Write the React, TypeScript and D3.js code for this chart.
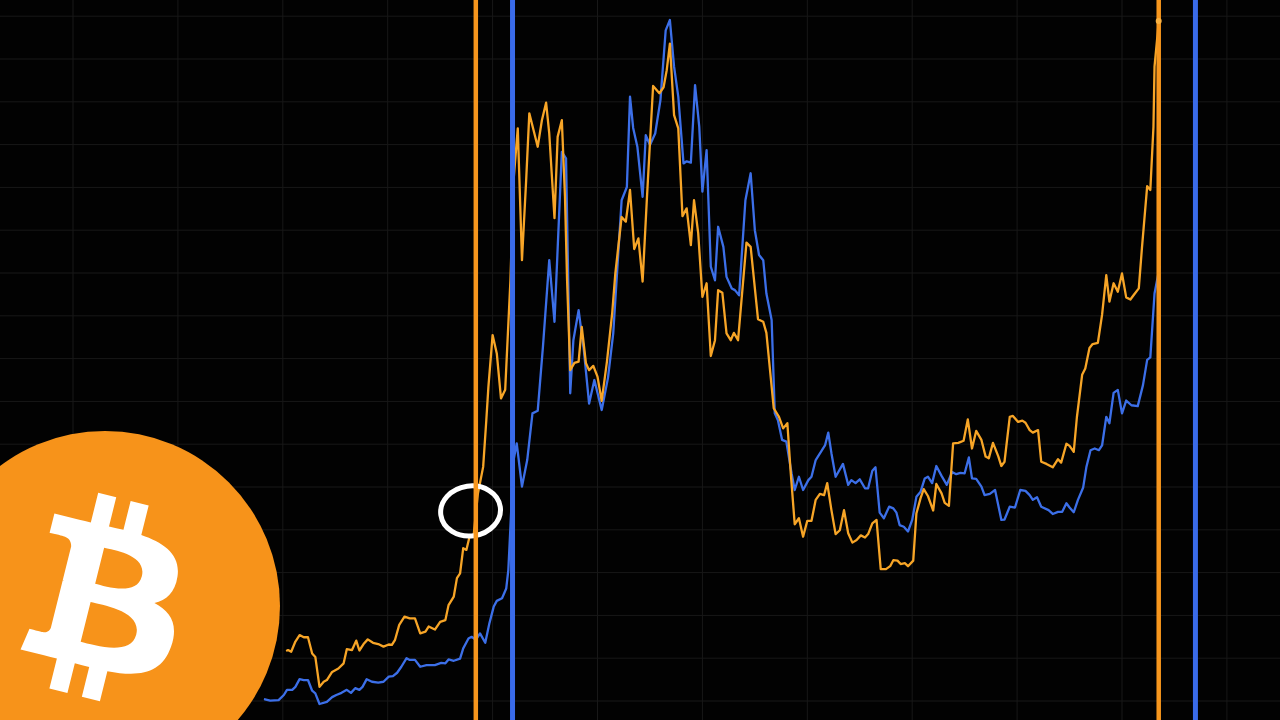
import React from "react";
import * as d3 from "d3";

// x: time index (grid every 10 units), y: value index (grid every 10 units)
const blueT = [18.3,18.8,19.6,20.1,20.4,20.9,21.2,21.6,22.0,22.4,
22.8,23.1,23.5,24.2,24.7,25.1,25.6,26.1,26.5,26.9,
27.3,27.6,28.0,28.5,29.1,29.6,30.1,30.5,30.9,31.3,
31.8,32.1,32.6,33.1,33.7,34.5,35.1,35.5,35.8,36.3,
36.9,37.2,37.7,38.0,38.4,38.8,39.3,39.7,40.1,40.4,
40.9,41.3,41.5,41.7,42.0,42.3,42.8,43.3,43.8,44.3,
44.8,45.4,45.9,46.6,47.0,47.4,47.7,48.2,48.7,49.2,
49.7,50.4,51.0,51.5,52.3,52.8,53.1,53.4,53.8,54.3,
54.6,55.0,55.5,56.0,56.5,56.9,57.3,57.7,58.2,58.5,
58.9,59.3,59.7,60.0,60.4,60.8,61.2,61.5,62.0,62.3,
62.8,63.1,63.5,64.1,64.6,65.0,65.4,65.8,66.1,66.6,
66.9,67.2,67.6,68.0,68.5,68.8,69.2,69.6,70.1,70.4,
70.8,71.4,71.7,72.0,72.3,72.7,73.4,73.9,74.2,74.6,
75.0,75.5,75.8,76.2,76.5,76.9,77.3,77.8,78.2,78.5,
78.8,79.2,79.6,80.0,80.4,80.8,81.2,81.5,81.9,82.3,
82.8,83.3,83.8,84.2,84.6,85.0,85.4,85.7,86.1,86.6,
86.9,87.4,87.9,88.5,88.8,89.3,89.8,90.3,90.8,91.2,
91.5,91.9,92.3,93.0,93.4,93.9,94.3,94.7,95.0,95.4,
95.8,96.3,96.6,97.0,97.4,97.8,98.1,98.5,98.8,99.2,
99.6,100.0,100.4,100.9,101.5,102.0,102.4,102.7,103.1,103.6];

const blueV = [10.4,10.1,10.2,11.4,12.6,12.6,13.3,15.1,14.9,14.9,
12.4,11.8,9.3,9.8,10.9,11.4,11.9,12.6,11.9,13.0,
12.6,13.3,15.1,14.5,14.3,14.5,15.7,15.8,16.6,18.0,
20.0,19.6,19.6,18.0,18.4,18.4,18.9,18.8,19.7,19.4,
19.9,22.3,24.6,25.0,24.3,25.8,23.6,28.2,32.0,33.4,
34.0,36.3,40.6,50.7,66.3,70.2,60.1,66.3,77.2,77.8,
92.8,113.0,98.6,138.3,136.8,81.9,94.3,101.3,92.0,79.5,
85.0,78.0,85.5,95.9,127.0,130.1,151.2,143.9,139.5,127.8,
142.2,139.9,142.6,150.4,166.7,169.1,158.2,151.2,135.6,136.1,
135.8,153.9,144.2,129.0,138.7,111.5,108.3,120.8,116.1,109.1,
106.4,106.0,104.8,127.0,133.3,120.0,114.2,113.0,105.2,99.0,
77.2,75.6,71.0,70.6,63.2,59.3,62.4,59.3,61.6,62.4,
66.3,68.6,69.8,72.7,67.9,62.4,65.4,60.5,61.6,60.9,
61.8,59.7,59.7,63.8,64.6,54.0,52.7,55.4,55.0,54.0,
51.1,50.7,49.6,52.3,57.7,58.9,62.0,62.4,60.9,64.9,
62.6,60.5,63.5,63.0,63.3,63.2,66.9,62.0,61.9,60.1,
58.1,58.4,59.3,52.3,52.4,55.4,55.2,59.3,59.1,58.1,
57.0,57.6,55.4,54.6,53.7,54.2,54.2,56.2,55.2,54.1,
57.0,59.9,64.6,68.6,69.0,68.6,69.7,76.4,74.9,82.0,
82.7,77.2,80.2,79.1,78.9,83.8,89.7,90.3,105.2,111.5];

const orangeT = [20.4,20.5,20.8,21.2,21.6,22.0,22.4,22.8,23.1,23.5,
23.9,24.2,24.7,25.3,25.8,26.1,26.6,27.0,27.3,27.7,
28.1,28.6,29.1,29.6,30.1,30.4,30.7,31.1,31.6,32.1,
32.6,33.1,33.6,33.9,34.5,35.0,35.5,35.8,36.3,36.6,
36.9,37.2,37.5,37.8,38.2,38.6,39.1,39.4,39.6,40.0,
40.4,40.8,41.2,41.7,42.0,42.4,42.8,43.2,43.5,43.9,
44.3,44.7,45.1,45.4,45.9,46.2,46.6,46.9,47.1,47.4,
47.8,48.2,48.5,48.9,49.2,49.6,50.0,50.4,50.9,51.4,
51.7,52.3,52.7,53.1,53.5,53.9,54.3,54.7,55.3,55.9,
56.3,56.6,56.9,57.3,57.7,58.1,58.5,58.9,59.2,59.6,
60.0,60.4,60.8,61.2,61.5,61.9,62.3,62.7,63.0,63.4,
64.2,64.6,65.3,65.8,66.1,66.8,67.3,67.7,68.1,68.4,
68.8,69.2,69.6,70.0,70.4,70.8,71.2,71.6,71.9,72.3,
72.7,73.1,73.5,73.9,74.3,74.7,75.1,75.5,75.8,76.2,
76.6,77.0,77.5,77.9,78.2,78.6,78.9,79.3,79.6,80.1,
80.4,80.8,81.1,81.5,82.0,82.3,82.8,83.1,83.5,83.9,
84.4,84.9,85.3,85.7,86.1,86.6,87.0,87.3,87.7,88.2,
88.5,88.8,89.3,89.6,90.1,90.5,90.8,91.2,91.5,92.0,
92.3,92.8,93.4,93.9,94.2,94.7,95.0,95.4,95.7,96.2,
96.5,96.9,97.2,97.7,98.1,98.5,98.8,99.2,99.6,100.0,
100.4,100.8,101.1,101.6,101.9,102.4,102.7,103.0,103.1,103.4,103.5];

const orangeV = [21.8,21.9,21.5,23.9,25.4,24.9,24.9,21.1,20.3,13.3,
14.5,14.9,16.8,17.6,18.8,22.1,21.9,24.1,21.8,23.3,
24.4,23.6,23.3,22.7,23.2,23.1,24.3,27.8,29.7,29.3,
29.3,25.8,26.2,27.4,26.7,28.5,28.9,32.4,34.4,38.7,
39.8,45.7,45.3,48.4,48.8,58.5,64.7,75.6,83.4,95.5,
91.2,80.7,82.7,108.3,131.7,143.8,113.0,131.7,147.3,143.4,
139.5,145.7,149.8,142.6,122.8,141.8,145.7,127.8,108.3,87.3,
89.0,89.3,97.4,88.9,87.3,88.3,85.8,80.1,89.3,100.6,
109.9,123.1,122.0,129.4,115.6,118.1,108.0,127.0,153.7,152.0,
153.4,157.4,163.6,146.9,143.8,123.3,125.1,116.5,127.0,119.3,
104.4,107.6,90.6,94.3,106.0,105.4,95.9,94.3,96.0,94.3,
117.1,116.1,99.2,98.6,96.0,78.4,76.4,73.7,74.9,64.0,
51.3,52.7,48.4,52.1,52.1,57.0,58.4,58.1,60.9,54.6,
49.0,49.9,54.6,49.2,47.0,47.6,48.7,48.2,49.0,51.5,
52.3,40.8,40.8,41.5,42.9,42.8,42.0,42.2,41.5,42.8,
53.8,57.4,59.5,57.9,54.5,60.7,58.5,56.3,55.6,70.2,
70.3,70.8,75.8,69.0,73.1,71.0,67.1,66.7,70.3,67.2,
64.9,65.9,76.4,76.6,75.2,75.5,75.0,73.3,72.7,73.3,
65.9,65.4,64.6,66.5,65.7,70.1,69.6,68.2,76.3,86.2,
87.7,92.5,93.4,93.7,100.2,109.5,103.3,107.6,105.6,109.9,
104.3,103.8,104.8,106.4,115.8,130.3,129.4,144.2,158.2,166.0,168.9];

const orangeMarkers = [38.4, 103.5];
const blueMarkers = [41.9, 107.0];
const xTicks = d3.range(0, 111, 10);
const yTicks = d3.range(10, 171, 10);
const highlight = { t: 37.9, v: 54.4 };

const W = 1280;
const H = 720;

const BITCOIN_B =
  "M46.1009,27.4413 C46.7380,23.1827 43.4957,20.8937 39.0626,19.3668 L40.5007,13.5989 L36.9895,12.7240 L35.5895,18.3400 C34.6664,18.1099 33.7184,17.8929 32.7764,17.6780 L34.1864,12.0250 L30.6774,11.1500 L29.2384,16.9160 C28.4744,16.7420 27.7244,16.5700 26.9964,16.3890 L27.0004,16.3710 L22.1584,15.1620 L21.2244,18.9120 C21.2244,18.9120 23.8294,19.5090 23.7744,19.5460 C25.1964,19.9010 25.4534,20.8420 25.4104,21.5880 L23.7724,28.1590 C23.8704,28.1840 23.9974,28.2200 24.1374,28.2760 C24.0204,28.2470 23.8954,28.2150 23.7664,28.1840 L21.4704,37.3890 C21.2964,37.8210 20.8554,38.4690 19.8614,38.2230 C19.8964,38.2740 17.3094,37.5860 17.3094,37.5860 L15.5664,41.6050 L20.1354,42.7440 C20.9854,42.9570 21.8184,43.1800 22.6384,43.3900 L21.1854,49.2240 L24.6924,50.0990 L26.1314,44.3270 C27.0894,44.5870 28.0194,44.8270 28.9294,45.0530 L27.4954,50.7980 L31.0064,51.6730 L32.4594,45.8500 C38.4464,46.9830 42.9484,46.5260 44.8434,41.1110 C46.3704,36.7510 44.7674,34.2360 41.6174,32.5960 C43.9114,32.0670 45.6394,30.5580 46.1004,27.4420 Z M38.0789,38.6900 C36.9939,43.0500 29.6529,40.6930 27.2729,40.1020 L29.2009,32.3730 C31.5809,32.9670 39.2129,34.1430 38.0789,38.6900 Z M39.1649,27.3780 C38.1749,31.3440 32.0649,29.3290 30.0829,28.8350 L31.8309,21.8270 C33.8129,22.3210 40.1949,23.2430 39.1649,27.3780 Z";

export default function App() {
  const x = d3.scaleLinear().domain([0, 110]).range([73, 1226.9]);
  const y = d3.scaleLinear().domain([10, 170]).range([701, 16.2]);

  const blueData = blueT.map((t, i) => [t, blueV[i]] as [number, number]);
  const orangeData = orangeT.map((t, i) => [t, orangeV[i]] as [number, number]);

  const line = d3
    .line<[number, number]>()
    .x((d) => x(d[0]))
    .y((d) => y(d[1]));

  const last = orangeData[orangeData.length - 1];

  const logoR = 175;
  const logoCx = 105;
  const logoCy = 606;
  const s = ((logoR * 2) / 64) * 0.94;

  return (
    <svg
      width={W}
      height={H}
      style={{ position: "fixed", left: 0, top: 0, background: "#020202", display: "block" }}
    >
      <rect x={0} y={0} width={W} height={H} fill="#020202" />
      <g stroke="#181818" strokeWidth={1}>
        {xTicks.map((t) => (
          <line key={"vx" + t} x1={x(t)} x2={x(t)} y1={0} y2={H} />
        ))}
        {yTicks.map((v) => (
          <line key={"hy" + v} x1={0} x2={W} y1={y(v)} y2={y(v)} />
        ))}
      </g>

      <path
        d={line(blueData) || ""}
        fill="none"
        stroke="#3c6fe8"
        strokeWidth={2.3}
        strokeLinejoin="round"
        strokeLinecap="round"
      />
      <path
        d={line(orangeData) || ""}
        fill="none"
        stroke="#f7a527"
        strokeWidth={2.3}
        strokeLinejoin="round"
        strokeLinecap="round"
      />

      <ellipse
        cx={x(highlight.t)}
        cy={y(highlight.v)}
        rx={30}
        ry={25}
        fill="none"
        stroke="#ffffff"
        strokeWidth={5}
        transform={`rotate(-8 ${x(highlight.t)} ${y(highlight.v)})`}
      />

      {orangeMarkers.map((t) => (
        <line key={"om" + t} x1={x(t)} x2={x(t)} y1={0} y2={H} stroke="#f7961d" strokeWidth={4.5} />
      ))}
      {blueMarkers.map((t) => (
        <line key={"bm" + t} x1={x(t)} x2={x(t)} y1={0} y2={H} stroke="#3a6be9" strokeWidth={5} />
      ))}

      <circle cx={x(last[0])} cy={y(last[1])} r={3} fill="#f9b040" />

      <g>
        <circle cx={logoCx} cy={logoCy} r={logoR} fill="#f7931a" />
        <path
          d={BITCOIN_B}
          fill="#ffffff"
          transform={`translate(${logoCx - 32 * s}, ${logoCy - 6 - 32 * s}) scale(${s})`}
        />
      </g>
    </svg>
  );
}
